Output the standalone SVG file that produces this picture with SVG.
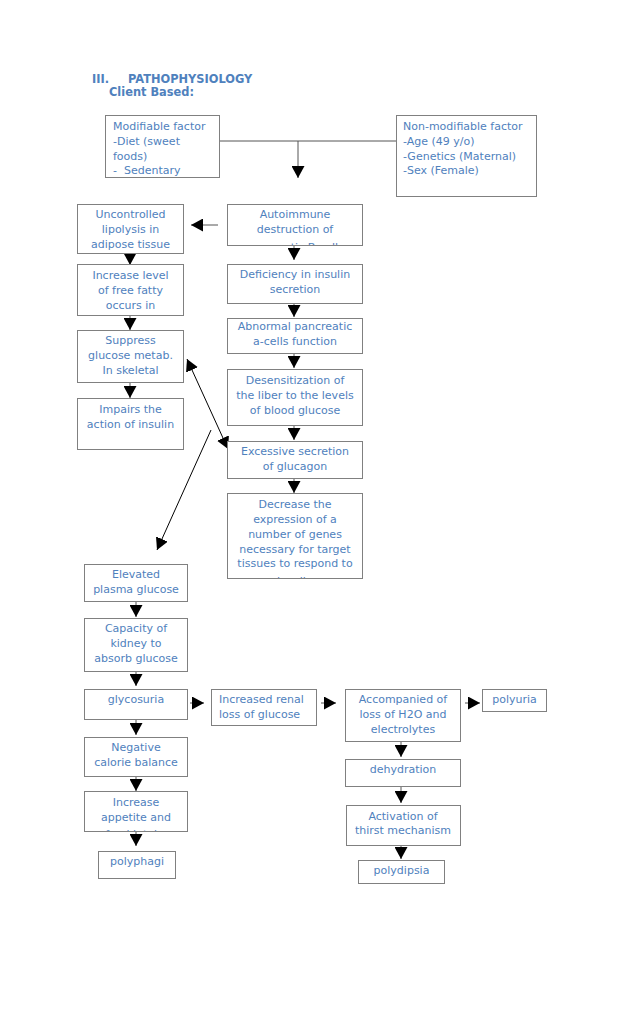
<svg xmlns="http://www.w3.org/2000/svg" width="621" height="1022" viewBox="0 0 621 1022">
<style>
.b{fill:#fff;stroke:#808080;stroke-width:1}
.t{font-family:"DejaVu Sans",sans-serif;font-size:11px;fill:#4f81bd}
.c{text-anchor:middle}
.h{font-family:"DejaVu Sans",sans-serif;font-size:11.4px;font-weight:bold;fill:#4f81bd}
.l{stroke:#555;stroke-width:1;fill:none}
</style>
<defs>
<marker id="a" markerUnits="userSpaceOnUse" markerWidth="12" markerHeight="13" refX="12" refY="6.5" orient="auto"><path d="M0,0L12,6.5L0,13Z" fill="#000"/></marker>
<marker id="s" markerUnits="userSpaceOnUse" markerWidth="12" markerHeight="13" refX="0" refY="6.5" orient="auto"><path d="M12,0L0,6.5L12,13Z" fill="#000"/></marker>
<clipPath id="k1"><rect x="105" y="115" width="114" height="62"/></clipPath>
<clipPath id="k2"><rect x="227" y="204" width="135" height="41"/></clipPath>
<clipPath id="k3"><rect x="227" y="493" width="135" height="85"/></clipPath>
<clipPath id="k4"><rect x="84" y="791" width="103" height="40"/></clipPath>
</defs>
<rect width="621" height="1022" fill="#fff"/>
<g id="title">
<text class="h" x="92" y="83">III.</text>
<text class="h" x="128" y="83">PATHOPHYSIOLOGY</text>
<text class="h" x="109" y="96">Client Based:</text>
</g>
<g id="connectors">
<line class="l" x1="219" y1="141" x2="396" y2="141"/>
<line class="l" x1="298" y1="141" x2="298" y2="178" marker-end="url(#a)"/>
<line class="l" x1="218" y1="225" x2="191" y2="225" marker-end="url(#a)"/>
<line class="l" x1="294" y1="245" x2="294" y2="260" marker-end="url(#a)"/>
<line class="l" x1="294" y1="303" x2="294" y2="317" marker-end="url(#a)"/>
<line class="l" x1="294" y1="353" x2="294" y2="368" marker-end="url(#a)"/>
<line class="l" x1="294" y1="425" x2="294" y2="440" marker-end="url(#a)"/>
<line class="l" x1="294" y1="478" x2="294" y2="493" marker-end="url(#a)"/>
<line class="l" x1="130" y1="253" x2="130" y2="265" marker-end="url(#a)"/>
<line class="l" x1="130" y1="315" x2="130" y2="330" marker-end="url(#a)"/>
<line class="l" x1="130" y1="382" x2="130" y2="398" marker-end="url(#a)"/>
<line x1="187" y1="359" x2="228" y2="449" stroke="#000" stroke-width="1" marker-start="url(#s)" marker-end="url(#a)"/>
<line x1="211" y1="430" x2="157" y2="550" stroke="#000" stroke-width="1" marker-end="url(#a)"/>
<line class="l" x1="136" y1="601" x2="136" y2="617" marker-end="url(#a)"/>
<line class="l" x1="136" y1="671" x2="136" y2="686" marker-end="url(#a)"/>
<line class="l" x1="136" y1="719" x2="136" y2="735" marker-end="url(#a)"/>
<line class="l" x1="136" y1="776" x2="136" y2="791" marker-end="url(#a)"/>
<line class="l" x1="136" y1="831" x2="136" y2="846" marker-end="url(#a)"/>
<line class="l" x1="190" y1="703" x2="204" y2="703" marker-end="url(#a)"/>
<line class="l" x1="321" y1="703" x2="336" y2="703" marker-end="url(#a)"/>
<line class="l" x1="465" y1="703" x2="480" y2="703" marker-end="url(#a)"/>
<line class="l" x1="401" y1="741" x2="401" y2="757" marker-end="url(#a)"/>
<line class="l" x1="401" y1="786" x2="401" y2="803" marker-end="url(#a)"/>
<line class="l" x1="401" y1="845" x2="401" y2="859" marker-end="url(#a)"/>
</g>
<g id="modifiable"><rect class="b" x="105.5" y="115.5" width="114" height="62"/>
<g clip-path="url(#k1)"><text class="t" x="113" y="130">Modifiable factor</text><text class="t" x="113" y="145">-Diet (sweet</text><text class="t" x="113" y="160">foods)</text><text class="t" x="113" y="174" xml:space="preserve">-  Sedentary</text></g></g>
<g id="nonmodifiable"><rect class="b" x="396.5" y="115.5" width="140" height="81"/>
<text class="t" x="403" y="130">Non-modifiable factor</text><text class="t" x="403" y="145">-Age (49 y/o)</text><text class="t" x="403" y="160">-Genetics (Maternal)</text><text class="t" x="403" y="174">-Sex (Female)</text></g>
<g id="uncontrolled"><rect class="b" x="77.5" y="204.5" width="106" height="49"/>
<text class="t c" x="130.5" y="218">Uncontrolled</text><text class="t c" x="130.5" y="233">lipolysis in</text><text class="t c" x="130.5" y="248">adipose tissue</text></g>
<g id="autoimmune"><rect class="b" x="227.5" y="204.5" width="135" height="41"/>
<g clip-path="url(#k2)"><text class="t c" x="295" y="218">Autoimmune</text><text class="t c" x="295" y="233">destruction of</text><text class="t c" x="295" y="251">pancreatic B-cells</text></g></g>
<g id="increase-fatty"><rect class="b" x="77.5" y="264.5" width="106" height="51"/>
<text class="t c" x="130.5" y="279">Increase level</text><text class="t c" x="130.5" y="294">of free fatty</text><text class="t c" x="130.5" y="309">occurs in</text></g>
<g id="deficiency"><rect class="b" x="227.5" y="264.5" width="135" height="39"/>
<text class="t c" x="295" y="278">Deficiency in insulin</text><text class="t c" x="295" y="293">secretion</text></g>
<g id="abnormal"><rect class="b" x="227.5" y="318.5" width="135" height="35"/>
<text class="t c" x="295" y="330">Abnormal pancreatic</text><text class="t c" x="295" y="345">a-cells function</text></g>
<g id="suppress"><rect class="b" x="77.5" y="330.5" width="106" height="52"/>
<text class="t c" x="130.5" y="344">Suppress</text><text class="t c" x="130.5" y="359">glucose metab.</text><text class="t c" x="130.5" y="374">In skeletal</text></g>
<g id="impairs"><rect class="b" x="77.5" y="398.5" width="106" height="51"/>
<text class="t c" x="130.5" y="413">Impairs the</text><text class="t c" x="130.5" y="428">action of insulin</text></g>
<g id="desensitization"><rect class="b" x="227.5" y="369.5" width="135" height="56"/>
<text class="t c" x="295" y="384">Desensitization of</text><text class="t c" x="295" y="399">the liber to the levels</text><text class="t c" x="295" y="414">of blood glucose</text></g>
<g id="excessive"><rect class="b" x="227.5" y="441.5" width="135" height="37"/>
<text class="t c" x="295" y="455">Excessive secretion</text><text class="t c" x="295" y="470">of glucagon</text></g>
<g id="decrease"><rect class="b" x="227.5" y="493.5" width="135" height="85"/>
<g clip-path="url(#k3)"><text class="t c" x="295" y="508">Decrease the</text><text class="t c" x="295" y="523">expression of a</text><text class="t c" x="295" y="538">number of genes</text><text class="t c" x="295" y="553">necessary for target</text><text class="t c" x="295" y="567">tissues to respond to</text><text class="t c" x="295" y="585">insulin</text></g></g>
<g id="elevated"><rect class="b" x="84.5" y="564.5" width="103" height="37"/>
<text class="t c" x="136" y="578">Elevated</text><text class="t c" x="136" y="593">plasma glucose</text></g>
<g id="capacity"><rect class="b" x="84.5" y="618.5" width="103" height="53"/>
<text class="t c" x="136" y="632">Capacity of</text><text class="t c" x="136" y="647">kidney to</text><text class="t c" x="136" y="662">absorb glucose</text></g>
<g id="glycosuria"><rect class="b" x="84.5" y="689.5" width="103" height="30"/>
<text class="t c" x="136" y="703">glycosuria</text></g>
<g id="renal"><rect class="b" x="211.5" y="689.5" width="105" height="36"/>
<text class="t" x="219" y="703">Increased renal</text><text class="t" x="219" y="718">loss of glucose</text></g>
<g id="accompanied"><rect class="b" x="345.5" y="689.5" width="115" height="52"/>
<text class="t c" x="403" y="703">Accompanied of</text><text class="t c" x="403" y="718">loss of H2O and</text><text class="t c" x="403" y="733">electrolytes</text></g>
<g id="polyuria"><rect class="b" x="482.5" y="689.5" width="64" height="22"/>
<text class="t c" x="514.5" y="703">polyuria</text></g>
<g id="negative"><rect class="b" x="84.5" y="737.5" width="103" height="39"/>
<text class="t c" x="136" y="751">Negative</text><text class="t c" x="136" y="766">calorie balance</text></g>
<g id="appetite"><rect class="b" x="84.5" y="791.5" width="103" height="40"/>
<g clip-path="url(#k4)"><text class="t c" x="136" y="806">Increase</text><text class="t c" x="136" y="821">appetite and</text><text class="t c" x="136" y="838">food intake</text></g></g>
<g id="polyphagi"><rect class="b" x="98.5" y="851.5" width="77" height="27"/>
<text class="t c" x="137" y="865">polyphagi</text></g>
<g id="dehydration"><rect class="b" x="345.5" y="759.5" width="115" height="27"/>
<text class="t c" x="403" y="773">dehydration</text></g>
<g id="thirst"><rect class="b" x="346.5" y="805.5" width="114" height="40"/>
<text class="t c" x="403" y="820">Activation of</text><text class="t c" x="403" y="834">thirst mechanism</text></g>
<g id="polydipsia"><rect class="b" x="358.5" y="860.5" width="86" height="23"/>
<text class="t c" x="401.5" y="874">polydipsia</text></g>
</svg>
